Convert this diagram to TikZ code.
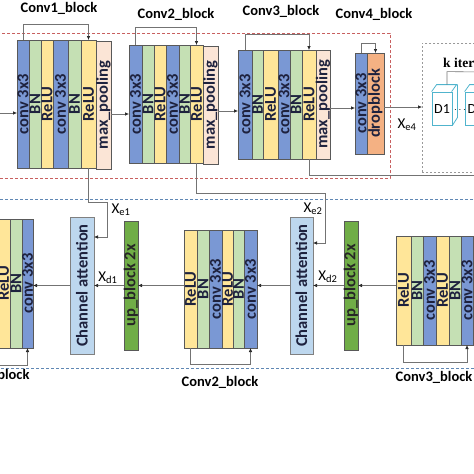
\documentclass[tikz,border=0pt]{standalone}
\usepackage{fontspec}
\setmainfont{Carlito}
\newfontfamily\kfont{Liberation Serif}
\usepackage{xcolor}
\usetikzlibrary{arrows.meta,calc,positioning}

\definecolor{convblue}{RGB}{122,152,212}
\definecolor{bngreen}{RGB}{197,224,180}
\definecolor{reluyellow}{RGB}{255,230,153}
\definecolor{poolpeach}{RGB}{251,229,214}
\definecolor{droporange}{RGB}{244,177,131}
\definecolor{attblue}{RGB}{189,215,238}
\definecolor{upgreen}{RGB}{112,173,71}
\definecolor{txtnavy}{RGB}{30,34,62}
\definecolor{encred}{RGB}{200,95,95}
\definecolor{decblue}{RGB}{95,135,180}
\definecolor{cubecyan}{RGB}{80,180,205}

\begin{document}
\begin{tikzpicture}[
    x=1pt, y=-1pt,
    strip/.style={draw=black!65, line width=0.5pt, inner sep=0pt, outer sep=0pt, anchor=north west},
    stext/.style={rotate=90, inner sep=0pt, text=txtnavy, font=\bfseries\fontsize{16.5}{16.5}\selectfont},
    blocktitle/.style={font=\bfseries\fontsize{14.5}{15}\selectfont},
    xlab/.style={font=\fontsize{15}{15}\selectfont},
    arr/.style={draw=black!55, line width=0.6pt, -{Latex[length=4pt,width=3.5pt,color=black!85]}},
    link/.style={draw=black!55, line width=0.6pt},
    lane/.style={line width=0.7pt, dash pattern=on 3pt off 2pt},
    cubeline/.style={draw=cubecyan, line width=0.8pt}
]
    \useasboundingbox (0,0) rectangle (474,474);
    \clip (0,0) rectangle (474,474);

    % dashed lanes: encoder (red), decoder (blue), k iterations (grey)
    \draw[lane, draw=encred] (-5,33) rectangle (390,178);
    \draw[lane, draw=decblue] (-5,199) rectangle (480,368);
    \node[draw=black!40, line width=0.6pt, dash pattern=on 2pt off 2pt, anchor=north west,
        minimum width=60pt, minimum height=129pt, inner sep=0pt] (kbox) at (422,43) {};

    % encoder blocks
    \foreach \n/\x/\w/\c/\t in {e1a/17/12/convblue/conv 3x3, e1b/29/12/bngreen/BN, e1c/41/12/reluyellow/ReLU,
        e1d/53/15/convblue/conv 3x3, e1e/68/13/bngreen/BN, e1f/81/15/reluyellow/ReLU}
        \node[strip, fill=\c, minimum width=\w pt, minimum height=128pt, label={[stext]center:\t}] (\n) at (\x,40) {};
    \node[strip, fill=poolpeach, minimum width=15pt, minimum height=128pt, label={[stext]center:max\_pooling}] (e1p) at (96,41) {};

    \foreach \n/\x/\w/\c/\t in {e2a/129/13/convblue/conv 3x3, e2b/142/12/bngreen/BN, e2c/154/12/reluyellow/ReLU,
        e2d/166/13/convblue/conv 3x3, e2e/179/11/bngreen/BN, e2f/190/13/reluyellow/ReLU}
        \node[strip, fill=\c, minimum width=\w pt, minimum height=118pt, label={[stext]center:\t}] (\n) at (\x,45) {};
    \node[strip, fill=poolpeach, minimum width=15pt, minimum height=118pt, label={[stext]center:max\_pooling}] (e2p) at (203,46) {};

    \foreach \n/\x/\w/\c/\t in {e3a/238/14/convblue/conv 3x3, e3b/252/11/bngreen/BN, e3c/263/15/reluyellow/ReLU,
        e3d/278/12/convblue/conv 3x3, e3e/290/12/bngreen/BN, e3f/302/14/reluyellow/ReLU}
        \node[strip, fill=\c, minimum width=\w pt, minimum height=109pt, label={[stext]center:\t}] (\n) at (\x,50) {};
    \node[strip, fill=poolpeach, minimum width=14pt, minimum height=109pt, label={[stext]center:max\_pooling}] (e3p) at (316,50) {};

    \node[strip, fill=convblue, minimum width=12pt, minimum height=101pt, label={[stext]center:conv 3x3}] (e4a) at (355,53) {};
    \node[strip, fill=droporange, minimum width=17pt, minimum height=101pt, label={[stext]center:dropblock}] (e4b) at (367,53) {};

    % decoder blocks
    \foreach \n/\x/\w/\c/\t in {d1a/-3/13/reluyellow/ReLU, d1b/10/12/bngreen/BN, d1c/22/11/convblue/conv 3x3}
        \node[strip, fill=\c, minimum width=\w pt, minimum height=129pt, label={[stext]center:\t}] (\n) at (\x,219) {};
    \foreach \n/\x/\w/\c/\t in {d2a/184/13/reluyellow/ReLU, d2b/197/12/bngreen/BN, d2c/209/13/convblue/conv 3x3,
        d2d/222/11/reluyellow/ReLU, d2e/233/11/bngreen/BN, d2f/244/13/convblue/conv 3x3}
        \node[strip, fill=\c, minimum width=\w pt, minimum height=118pt, label={[stext]center:\t}] (\n) at (\x,230) {};
    \foreach \n/\x/\w/\c/\t in {d3a/396/15/reluyellow/ReLU, d3b/411/12/bngreen/BN, d3c/423/13/convblue/conv 3x3,
        d3d/436/13/reluyellow/ReLU, d3e/449/12/bngreen/BN, d3f/461/12/convblue/conv 3x3}
        \node[strip, fill=\c, minimum width=\w pt, minimum height=109pt, label={[stext]center:\t}] (\n) at (\x,236) {};

    \node[strip, draw=black!50, fill=attblue, minimum width=24pt, minimum height=137pt, label={[stext]center:Channel attention}] (ca1) at (70,217) {};
    \node[strip, draw=black!50, fill=attblue, minimum width=23pt, minimum height=137pt, label={[stext]center:Channel attention}] (ca2) at (290,217) {};
    \node[strip, fill=upgreen, minimum width=14pt, minimum height=129pt, label={[stext, text=black!85]center:up\_block 2x}] (up1) at (124,221) {};
    \node[strip, fill=upgreen, minimum width=14pt, minimum height=129pt, label={[stext, text=black!85]center:up\_block 2x}] (up2) at (344,221) {};

    % block titles
    \node[blocktitle] (t1) at (59,8) {Conv1\_block};
    \node[blocktitle] (t2) at (176,14) {Conv2\_block};
    \node[blocktitle] (t3) at (281,11) {Conv3\_block};
    \node[blocktitle] (t4) at (374,14) {Conv4\_block};
    \node[blocktitle, anchor=east] (b1) at (33,375) {Conv1\_block};
    \node[blocktitle] (b2) at (220,382) {Conv2\_block};
    \node[blocktitle] (b3) at (434,377) {Conv3\_block};

    % k iterations
    \node[draw=cubecyan, line width=0.8pt, fill=white, minimum width=20pt, minimum height=33pt,
        inner sep=0pt, font=\fontsize{14}{14}\selectfont] (dd1) at (442,108.5) {D1};
    \draw[cubeline] (dd1.north west) -- ++(5,-7) -- ++(20,0) -- ++(-5,7)
        (dd1.north east) ++(5,-7) -- ++(0,33) -- (dd1.south east);
    \node[draw=cubecyan, line width=0.8pt, fill=white, minimum width=20pt, minimum height=33pt,
        inner sep=0pt, font=\fontsize{14}{14}\selectfont] (ddk) at (475,108.5) {Dk};
    \draw[cubeline] (ddk.north west) -- ++(5,-7) -- ++(20,0) -- ++(-5,7)
        (ddk.north east) ++(5,-7) -- ++(0,33) -- (ddk.south east);
    \node[inner sep=0pt, font=\fontsize{10}{10}\selectfont] (ddots) at (460,110) {$\cdots$};
    \node[anchor=west, inner sep=0pt, font=\kfont\bfseries\fontsize{13.5}{14}\selectfont] (kit) at (443,63) {k iterations};
    \coordinate (kend) at (480,72);
    \draw[link] (dd1.north) ++(5,-7) -- ++(0,-13) -- (kend);

    % encoder connectors
    \coordinate (xin) at (0,113);
    \coordinate (xe3) at (480,175);
    \draw[arr] (xin) -- (xin -| e1a.west);
    \draw[arr] ([yshift=-9pt]e1p.east) -- ([yshift=-9pt]e1p.east -| e2a.west);
    \draw[arr] ([yshift=-6pt]e2p.east) -- ([yshift=-6pt]e2p.east -| e3a.west);
    \draw[arr] ([yshift=-3.5pt]e3p.east) -- ([yshift=-3.5pt]e3p.east -| e4a.west);
    \draw[arr] ([yshift=-3.5pt]e4b.east) -- ([yshift=-3.5pt]e4b.east -| kbox.west);
    \draw[arr] (e1a.north) -- ++(0,-16) -| (e1f.north);
    \draw[arr] (e2a.north) -- ++(0,-18) -| (e2f.north);
    \draw[arr] (e3a.north) -- ++(0,-16) -| (e3f.north);
    \draw[arr] (e4a.north) -- ++(0,-10) -| (e4b.north);

    % skip connections to the decoder
    \draw[arr] (e1f.south) -- ++(0,34) -| ([xshift=13pt,yshift=48.5pt]ca1.east) -- ([yshift=48.5pt]ca1.east);
    \draw[arr] (e2f.south) -- ++(0,30) -| ([xshift=12pt,yshift=42.5pt]ca2.east) -- ([yshift=42.5pt]ca2.east);
    \draw[link] (e3f.south) |- (xe3);

    % decoder connectors
    \coordinate (xd1) at (-5,365);
    \draw[arr] (d3a.west |- up2.east) -- (up2.east);
    \draw[arr] (up2.west) -- (ca2.east);
    \draw[arr] (ca2.west) -- (ca2.west -| d2f.east);
    \draw[arr] (d2a.west |- up1.east) -- (up1.east);
    \draw[arr] (up1.west) -- (ca1.east);
    \draw[arr] (ca1.west) -- (ca1.west -| d1c.east);
    \draw[arr] (d3a.south) -- ++(0,17) -| (d3f.south);
    \draw[arr] (d2a.south) -- ++(0,16) -| (d2f.south);
    \draw[arr] (xd1) -| (d1c.south);

    % feature labels
    \node[xlab] (lxe1) at (121,210) {X\textsubscript{e1}};
    \node[xlab] (lxe2) at (313,209) {X\textsubscript{e2}};
    \node[xlab] (lxe4) at (407,125) {X\textsubscript{e4}};
    \node[xlab] (lxd1) at (108,278) {X\textsubscript{d1}};
    \node[xlab] (lxd2) at (328,277) {X\textsubscript{d2}};
\end{tikzpicture}
\end{document}
